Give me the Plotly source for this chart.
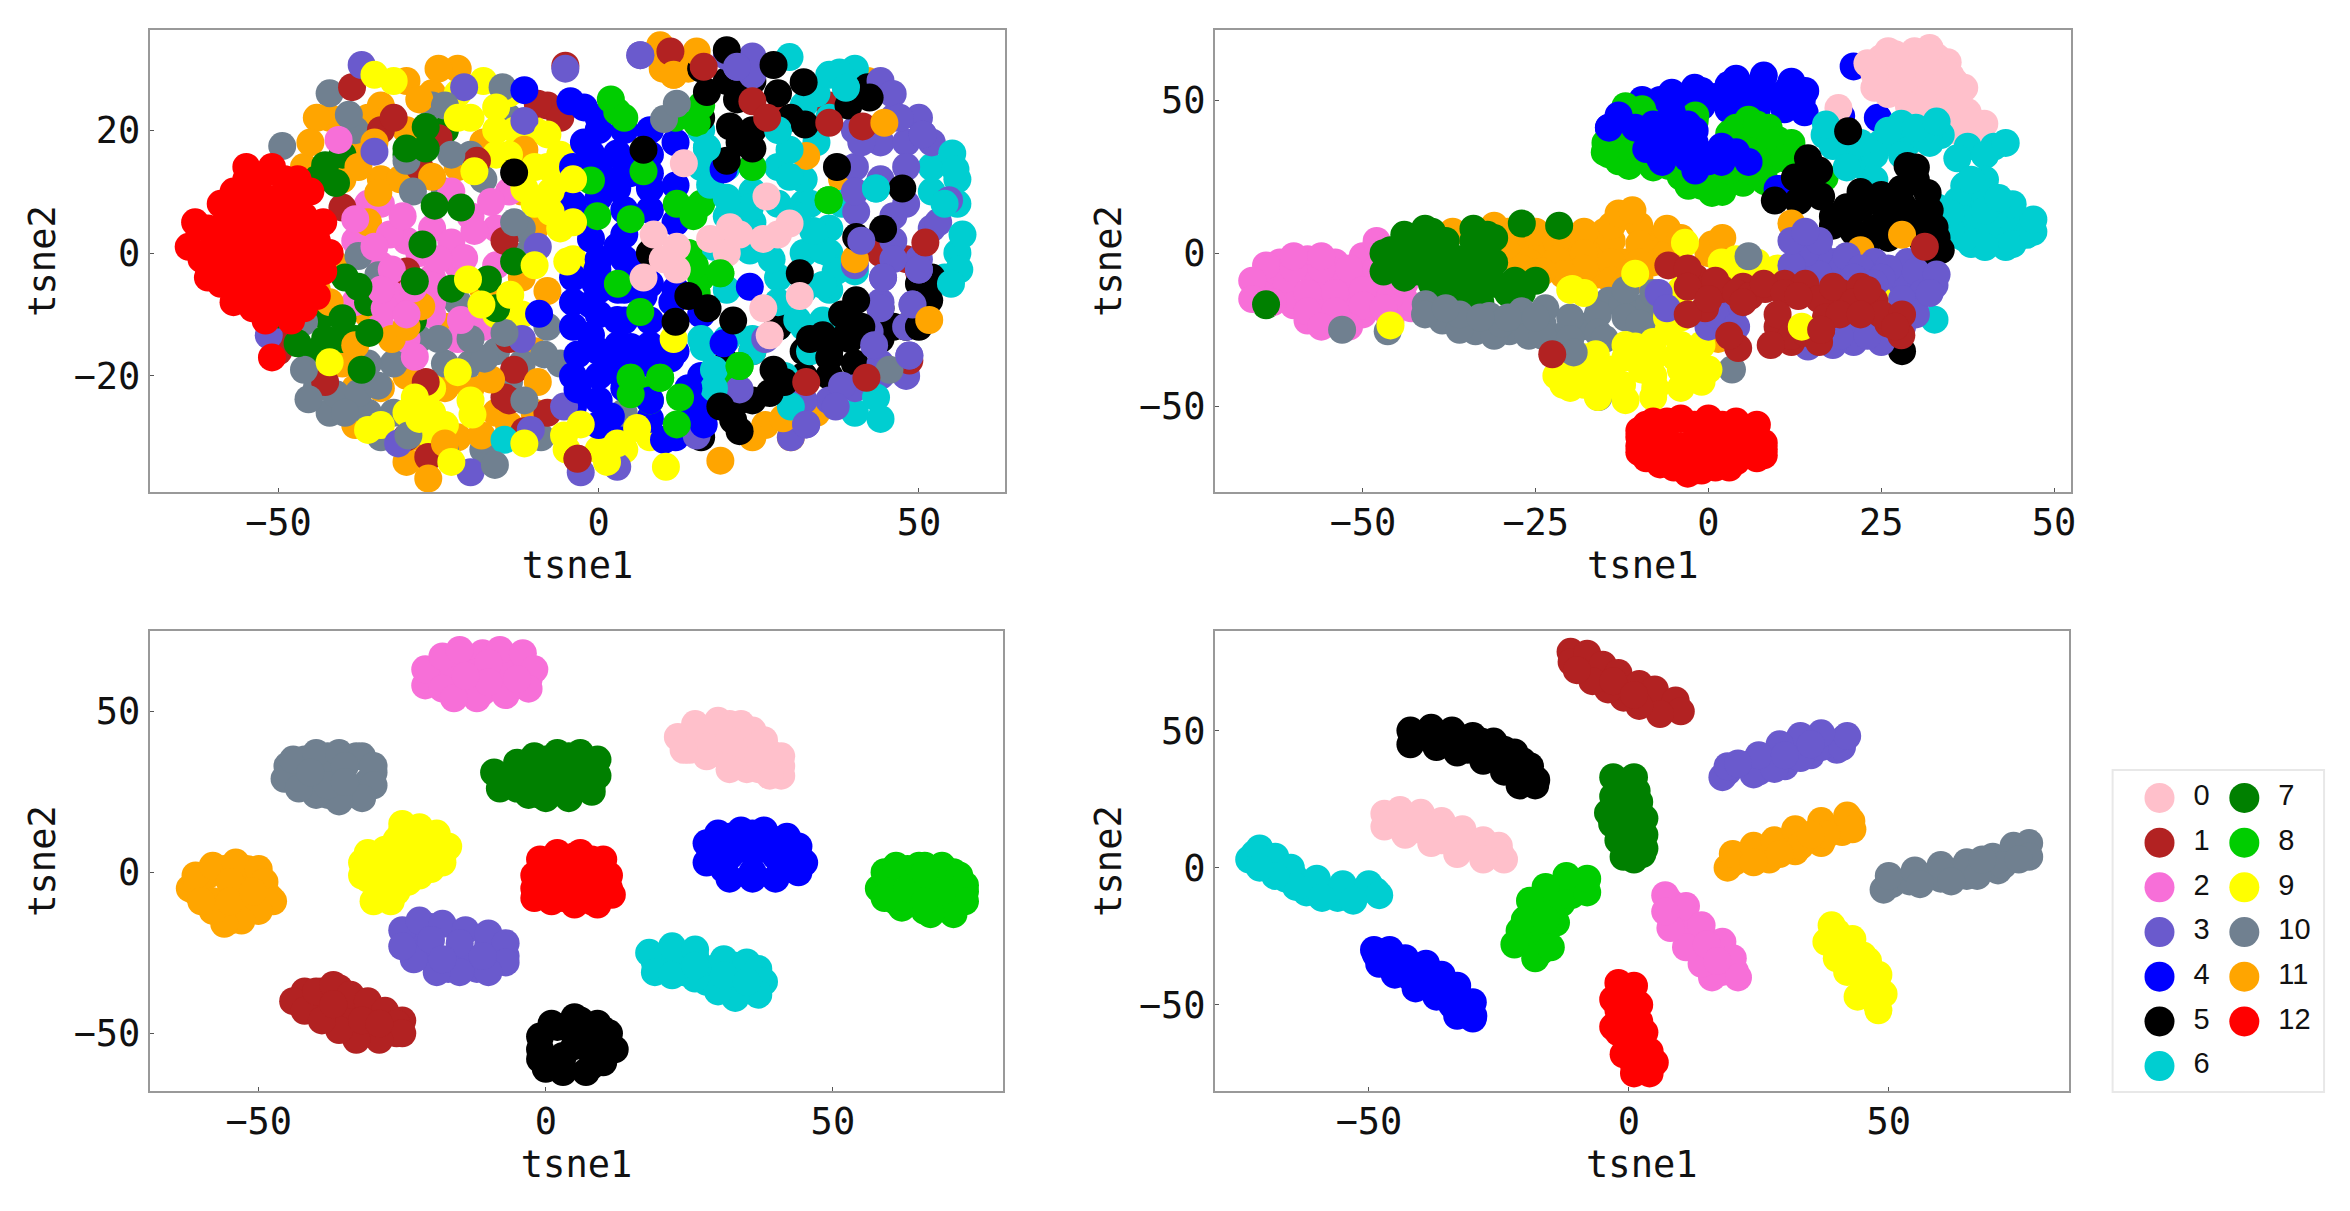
import plotly.graph_objects as go

class_names = ["0","1","2","3","4","5","6","7","8","9","10","11","12"]
class_colors = ["#ffc0cb","#b22222","#f76fd8","#6a5acd","#0000ff","#000000","#00ced1",
                "#008000","#00cd00","#ffff00","#708090","#ffa500","#ff0000"]
legend_col = [0,0,0,0,0,0,0,1,1,1,1,1,1]
legend_row = [0,1,2,3,4,5,6,0,1,2,3,4,5]
x_label = "tsne1"
y_label = "tsne2"

# ---------- panel 1 (top left): background points first ----------
p1_f11 = [(-46,14),(-42,22),(-38,18),(-34,12),(-40,-18),(-36,-10),(-30,20),(-34,24),(-30,28),(-26,26),(-22,14),(-18,18),(-22,30),
          (-38,-28),(-30,-20),(-22,-30),(-30,-34),(-14,-28),(-10,-16),(-10,-26),(-12,10),(-34,-22),(-10,4),(-24,-22),(-20,-22),
          (-16,-26),(26,-28),(30,-30),(34,-26),(38,12),(42,28),(14,30),(10,30),(-40,12),(-36,22),(-31,12),(-24,-12),(-38,-22),
          (-33,-8),(-28,-30),(-18,-6),(-12,-4),(-9,8),(-44,-6),(-41,-2)]
p1_f10 = [(-42,26),(-38,20),(-44,-22),(-42,-26),(-36,-26),(-32,-26),(-34,-30),(-28,-14),(-24,-18),(-20,-18),(-16,-16),(-12,-18),
          (-6,-18),(-24,10),(-26,24),(-18,12),(-14,22),(-12,4),(-8,-12),(-32,-18),(-14,-21),(-18,-32),(-9,-30),(-20,16),(-11,0),
          (-36,-18),(-22,-8),(-24,-32),(-41,-23)]
p1_f2 = [(-34,-12),(-30,-14),(-26,-10),(-22,-14),(-18,-12),(-34,8),(-30,2),(-34,-2),(-26,4),(-20,6),(-16,4),(-14,10),(-22,-2),
         (-26,-4),(-26,-8),(-38,2),(-36,8),(-16,-2),(-30,-8),(-38,-8),(-23,10),(-28,0),(-32,-6)]
p1_f9 = [(-14,26),(-18,28),(-10,20),(-8,14),(-6,16),(-12,18),(-6,4),(-16,16),(-4,-1),(-20,22),(-22,26),(-30,-26),(-26,-30),(-16,-10),
         (-12,-10),(-20,-24),(-24,-28),(-34,-28),(-26,-22),(-5,-32),(0,-32),(4,-32),(8,-30),(-10,8),(-13,20),(-5,11)]
p1_f7 = [(-44,12),(-40,16),(-36,-8),(-38,-14),(-30,16),(-24,20),(-44,-16),(-40,-14),(-43,-10),(-29,-11)]
p1_f1 = [(-34,20),(-28,14),(-14,-24),(-14,-14),(-8,-26),(-30,-30),(-8,24),(-6,22),(28,22),(44,0),(48,-1),(36,24),(50,-3),(24,-16)]
p1_f4 = [(-4,14),(-4,8),(-4,-4),(-4,-8),(-4,-12),(-4,-20),(-4,-25),(0,22),(0,14),(0,9),(0,-1),(0,-6),(0,-10),(0,-16),(0,-20),(0,-24),
         (0,-28),(4,20),(4,15),(4,7),(4,3),(4,-1),(4,-6),(4,-11),(4,-18),(4,-28),(8,20),(8,13),(8,7),(8,-5),(8,-11),(8,-15),(8,-27),
         (12,18),(12,11),(12,5),(12,-6),(12,-16),(12,-30),(16,-10),(16,-20),(16,-24)]
p1_f6 = [(16,20),(16,14),(20,14),(20,6),(24,10),(16,-14),(20,-6),(28,14),(28,8),(32,8),(32,12),(32,0),(28,-4),(32,-6),(36,4),(36,0),
         (36,-6),(28,-12),(24,-14),(32,-12),(20,-14),(34,18),(36,22),(34,26),(36,29),(40,30),(52,14),(52,10),(56,8),(56,0),(54,-4),
         (56,12),(24,14),(32,24),(40,-3),(44,-27),(24,-16),(40,-26),(18,1),(24,5),(38,8),(37,-3)]
p1_f5 = [(20,28),(24,28),(16,22),(22,18),(28,26),(24,20),(30,22),(16,30),(28,-12),(24,-24),(32,-16),(36,-16),(36,-20),(32,-20),
         (40,-18),(44,-9),(44,-14),(50,-5),(52,-4),(16,-30),(20,-24),(42,27),(40,26),(38,-12),(46,-12),(48,-12),(20,-18),(22,-24)]
p1_f3 = [(20,32),(24,32),(26,-14),(40,-22),(36,-24),(32,-24),(30,-30),(44,-20),(48,-20),(40,14),(44,18),(48,18),(44,12),(48,8),(52,4),
         (50,-1),(46,2),(40,-2),(44,-8),(48,-12),(44,28),(46,22),(50,22),(52,18),(40,20)]
p1_f8 = [(12,22),(16,24),(16,8),(8,-24),(14,0),(16,-4),(20,-20),(6,-22)]

p1_c1 = [(-38.5,27),(-32,22),(-25,18.7),(-9.5,24.3),(-40,7.4),(-14.7,2),(-49,-12),(-42.7,-21),(-27,-21),
         (-14.7,-23.5),(-13.2,-19),(-26.6,-33.2),(-11.6,-29),(-5.2,30.5),(-3.3,-33.5),(48.5,-17.5),(-50,-16),
         (-30,-3),(-19,15)]
p1_c11 = [(-25,30),(-28,25),(-44,22),(-45,18),(-11.6,16.8),(-26,12.4),(-34.4,9.8),(-37.5,14),(-27.7,-8.7),
          (-8,-6.2),(-32.3,-14),(-38,-15),(-16.8,-20.6),(-26.6,-36.7),(-24,-31),(-18.3,-29.7),(-9.5,-21),
          (19,-33.8),(28.8,-26.9),(15.3,32.8),(9.6,33.8),(11.7,29),(32.4,15.8),(-35,18),(-36,5),(-30,-12),(-42,-8),(24,-30),(40,-1)]
p1_c3 = [(-37,30.6),(-21,27),(-11.6,21.5),(-35,16.5),(-9.5,1),(-51.5,-13.4),(-31.3,-31),(-20,-35.7),
         (-10.6,-28.8),(2.9,-34.8),(-2.8,-35.7),(-5.4,-25),(15.3,-29.7),(-5.2,30),(6.5,32.2),(21.6,30.3),(-12,-14),
         (22,-22.2),(32.4,-27.9),(38,-21.6),(42.3,-12.8),(44,-18),(48.5,-16.7),(45.9,25.9),(47,22),(50.6,19.3),(48,14),
         (54.7,8.6),(53,5),(40.2,6.7),(46,-1),(44.4,-4),(50,-2.7),(49,-8.4),(44,-9),(41,18),(37,-25),(40,10),(46,6),(24,29)]
p1_c6 = [(-14.7,-30.4),(29.8,31.9),(37.6,29.4),(38.6,26.9),(29.8,16.8),(16.9,17.1),(29.8,12.4),(17.4,11.1),(23.6,7.4),
         (20,9),(43.3,10.5),(55.2,16.2),(55.7,13.6),(56.8,3),(56.3,-2.7),(55,-5),(31,-10.9),(28,-8),(16.4,-15.3),(18,-19),
         (35,0.4),(35,-5.2),(33.5,3.6),(23.6,0.4),(35,-11),(43.3,-23.5),(29,-20),(33,-16),(33,8),(28,20),(18,-22),(31,6),(54,8),(27,-1),(30,-25)]
p1_c10 = [(-39,22.5),(-49.4,17.4),(-24,24),(-15,27),(-23,16),(-29,10),(-13.2,5),(-37.5,-0.5),(-34.4,-3.6),
          (-25,-14),(-14.7,-13),(-17.8,-17.2),(-8.5,-16.5),(-46,-11.2),(-46,-19),(-45.3,-23.8),(-37.5,-22.8),
          (-34.4,-21.6),(-39.6,-26),(-29.7,-29.7),(-16.2,-34.5),(-11.6,-24),(3.9,-26),(10.2,21.8),(12.2,24.3),(45.4,-19),(-20,-14),(-30,15)]
p1_c2 = [(-40.6,18.4),(-38,5.5),(-32.6,3),(-30.6,6),(-16.8,8.3),(-23,1.7),(-19.4,3.6),(-21,-0.8),(-32.3,-2.7),
         (-33.4,-9),(-29,-5.8),(-21.5,-10.9),(-28.7,-16.9),(-25,-1),(-34,-6),(-30,-10),(-35,1)]
p1_c4 = [(-11.6,26.5),(-4.4,24.7),(-2.3,23.7),(-1.2,16.2),(2.9,16.2),(-2.3,18),(2.9,10.5),(8,10.5),(-1.2,2.3),(2.9,1),
         (-0.2,-2.7),(5,-3),(-1.2,-8.4),(-1.2,-13.4),(2.9,-10.9),(-3.3,-16.5),(5,-15.3),(11.2,-17.2),(1.9,-19),(-3.3,-22.2),
         (8,-24),(16.4,-27.9),(10.2,-30.4),(1.9,-26.6),(11.5,-8),(19.5,-14.7),(23.6,-5.5),(19.5,13.6),(-9.3,-9.9),(-0.5,6),
         (3,-6),(7,-7),(3,-15),(8,-18),(-0.5,-5),(5,13),(0,20),(14,-22),(15,-26),(8,16),(4,-22),(1,12)]
p1_c8 = [(2.9,23),(1.9,25),(4,22),(7,13.3),(-1.2,11.8),(-0.2,6),(5,5.5),(5,-20.3),(9.6,-20.3),(12.7,-23.5),(12.2,-27.9),
         (6.5,-9.6),(15.3,-6.5),(19,-3.3),(22,-18.4),(12.2,8),(14.8,6),(15.3,21.2),(24,14),(35.9,8.6),(3,-5),(5,-23),(15,-2)]
p1_c7 = [(-27,20.5),(-30,17),(-27,17),(-42.7,14.3),(-41,11.4),(-25.6,7.7),(-21.5,7.4),(-27.5,1.4),(-13.2,-1.4),
         (-39.6,-4),(-37.5,-5.5),(-28.7,-4.6),(-23,-5.8),(-17.3,-4.3),(-40,-10.6),(-35.8,-13),(-47,-14.7),(-42.7,-14),
         (-37,-19),(-16,-9),(-50,-10)]
p1_c9 = [(-35,29),(-32,28),(-22,22),(-16,23.7),(-16,20),(-8,19.3),(-19.4,13.3),(-7.5,10),(-7.5,6.7),(-11.6,10.5),(-10,14),
         (-4.9,-1.4),(-20.4,-4.3),(-13.8,-6.8),(-18.3,-8.4),(-42,-17.8),(-36,-28.8),(-28.7,-23.5),(-26,-26),(-22,-19.4),
         (-19.7,-26.3),(-23,-34),(-11.6,-31),(-5.4,-29.7),(-2.8,-27.9),(1.3,-34),(6,-28.5),(10.5,-34.8),(2.9,-31),
         (-28,-27),(-4,5),(-4,12),(11.7,-14),(-10,-2),(-14,16)]
p1_top_c5 = [(-13.2,13.1),(7,16.8),(16.9,26.2),(20.5,20.6),(21.6,25),(20,15),(27.3,30.6),(32,27.8),(32.2,20.9),(42.3,25.3),
             (37.2,14),(47.4,10.5),(40.2,2.6),(44.4,3.9),(51.6,-7.7),(35,-13.4),(39.2,-14),(40.2,-7.7),(27.3,-19),(21,-27.2),
             (26.7,-22.8),(31.4,-3.3),(12,-11.2),(50,-12),(21,-11),(19,-25),(8,0),(38,-10),(24,17),(20,33),(39,24),
             (36,-17),(33,-14),(41,-12),(22,-29),(29,-21),(17,-9),(14,-7)]
p1_top_c3 = [(44.4,-4),(50,-2.7),(49,-8.4),(43,-15),(48.5,-16.7),(32.4,-27.9),(41,2),(6.5,32.2),(21.6,30.3),(50.6,19.3)]
p1_top_c1 = [(51,1.7),(41.8,-20.3),(32.4,-21),(24,24.7),(26.3,22),(36,21.2),(41.2,20.6),(11.2,32.8),(16.4,30.3),(-3.3,-33.5)]
p1_top_c11 = [(51.6,-10.9),(44.6,21.2),(11.7,29)]
p1_top_c6 = [(43.3,10.5),(16.9,17.1),(38.6,26.9)]
p1_top_c0 = [(13.3,14.6),(8.6,3),(7,-4),(12.2,-2.7),(12.2,1),(17.4,2.3),(20.5,4.2),(25.7,2.3),(29.8,4.8),(26.2,9.2),(20,0),
             (31.4,-7),(25.7,-9),(26.7,-13.4),(10,-1),(22,3),(28,3)]
p1_top_c8 = [(19,-3.3),(35.9,8.6),(22,-18.4),(5,-20.3),(9.6,-20.3)]
p1_top_c12 = [(-55,14),(-51,14),(-57,10),(-53,10),(-49,10),(-45,10),(-58,6),(-54,6),(-50,6),(-46,6),(-43,5),(-63,5),(-60,2),
              (-56,2),(-52,2),(-48,2),(-44,2),(-42,0),(-64,1),(-61,-2),(-57,-2),(-53,-2),(-49,-2),(-45,-2),(-43,-3),(-59,-5),
              (-55,-5),(-51,-5),(-47,-6),(-61,-4),(-54,-9),(-50,-9),(-46,-9),(-57,-8),(-44,-7),(-51,-17),
              (-59,8),(-55,12),(-47,12),(-61,4),(-62,-1),(-56,-7),(-52,-11),(-48,-11),(-45,-5),(-51,8),(-47,4),(-53,0),(-49,-7),
              (-53,12),(-49,12),(-55,8),(-47,8),(-57,4),(-53,4),(-49,4),(-45,4),(-59,0),(-55,0),(-51,0),(-47,0),(-43,0),
              (-57,-4),(-53,-4),(-49,-4),(-45,-4),(-53,-7),(-51,-7),(-47,-8),(-59,-2),(-55,-2),(-51,-2),(-47,-2)]
p1_layers = [(11,p1_f11),(10,p1_f10),(2,p1_f2),(9,p1_f9),(7,p1_f7),(1,p1_f1),(4,p1_f4),(6,p1_f6),(5,p1_f5),(3,p1_f3),(8,p1_f8),
             (1,p1_c1),(11,p1_c11),(3,p1_c3),(6,p1_c6),(10,p1_c10),(2,p1_c2),(4,p1_c4),(8,p1_c8),(7,p1_c7),(9,p1_c9),
             (5,p1_top_c5),(3,p1_top_c3),(1,p1_top_c1),(11,p1_top_c11),(6,p1_top_c6),(0,p1_top_c0),(8,p1_top_c8),(12,p1_top_c12)]

# ---------- panel 2 (top right) ----------
p2_c7a = [(-64,-17),(-65,-13)]
p2_c2 = [(-64,-8),(-62,-3),(-58,-2),(-54,-3),(-50,-1),(-48,3),(-65,-13),(-61,-10),(-57,-9),(-53,-9),(-49,-8),(-46,-10),
         (-60,-17),(-56,-16),(-52,-16),(-48,-15),(-44,-15),(-58,-22),(-54,-23),(-50,-20),(-46,-22),(-43,-18),
         (-64,-4),(-60,-5),(-56,-5),(-52,-5),(-48,-5),(-63,-16),(-58,-13),(-54,-13),(-50,-12),(-46,-14),(-44,-10),(-58,-19),
         (-54,-19),(-50,-17),(-47,-18),(-56,-24),(-52,-24),(-66,-9),(-66,-15),(-47,-2),(-46,-5),(-48,4),(-60,-1),(-56,-1)]
p2_c7b = [(-64,-16.7)]
p2_c10a = [(-53,-25),(-46.4,-25.5),(-15.9,-47)]
p2_c4a = [(7.7,56),(2.9,54.9),(11.5,53.6),(13.5,50),(1,51),(5.8,51),(9.6,51),(2.9,47),(13.9,46),(-5.3,52.4),(-9.6,50),
          (-5.3,46),(-14.4,41),(-10.6,41),(-5.3,39),(21,61),(19.2,44.8),(24.5,44.2),(10,21),
          (4,57),(8,58),(12,56),(14,53),(-2,54),(3,51),(7,47),(11,47),(11,50),(-1,48),(-1,53),(-3,50),(-7,50),(-9,46),(-12,44),(-12,38)]
p2_c8 = [(-14.4,32.3),(-11.5,28.5),(-9.6,47),(-1.9,45),(5.8,43.6),(8.7,41),(10.6,34.8),(6.7,34.8),(-5.8,28.5),(0.5,19.7),
         (2.9,23.5),(-2.9,22),(8.2,23.5),(16.8,24.7),(-14.9,36),(-10,36),(5,38),(9,30),(-8,33),
         (-13,30),(-10,33),(-8,28),(-12,35),(-15,33),(-4,25),(-1,22),(2,20),(5,23),(3,27),(0,25),(7,38),(8,36),(3,39),(4,41),
         (10,37),(12,36),(11,31),(7,42),(-2,43),(-9,44),(-12,48),(7,28),(6,27)]
p2_c4b = [(-14.4,41),(-10.6,41),(-5.3,39),(-6.7,29.8),(-1.9,27),(1.9,34.8),(1.9,29.8),(5.8,29.8),(-7,36),(-9,34),(0,32),
          (-5.3,46),(10,21),(-8,42),(-3,42),(-7,31),(-3,31),(0,30),(4,33),(-2,36),(-4,34),(-2,40),(-13,45)]
p2_c0 = [(25,63.7),(29.8,66),(34.6,62.4),(26,57.4),(30.8,58.7),(35.6,56),(29.8,52.4),(34.6,50),(31.7,46),(37.5,46),
         (39.9,42.3),(37.5,39.8),(18.8,47.4),(24,58.7),(33,64),(23,62),(26,66),(30,62),(33,60),(28,56),(33,54),(37,54),(31,50),
         (36,48),(28,60),(24,54),(26,52),(29,48),(34,44),(38,43),(36,40),(39,37),(27,65),(32,67),(35,58)]
p2_c6 = [(16.8,38.6),(21,32.3),(25,36),(28.8,36),(33.6,38.6),(37.5,34.8),(41.3,34.8),(27.9,42.3),(23,27.3),(38.5,21),
         (34.6,11),(40.4,11),(44.2,7.2),(46,9.7),(42.3,4.6),(38,16),(32.7,-21.7),(19,36),(39,6),(36,6),
         (18,35),(20,28),(24,32),(28,32),(32,36),(36,31),(40,32),(43,36),(30,41),(26,40),(33,43),(37,22),(40,24),(36,17),(40,17),
         (42,12),(36,8),(38,3),(41,7),(44,11),(46,6),(37,11),(33,15),(40,20),(43,2),(24,24),(22,36),(17,42),
         (40,2),(44,3),(37,5),(35,8),(47,7),(47,11),(44,16),(40,14),(38,24),(42,18),(35,13)]
p2_c5 = [(20.2,39.8),(14.4,31),(12.5,24.7),(9.6,17.2),(16.3,18.5),(20.2,12),(21,7),(25,16),(29.8,8.4),(26,11),(28.8,28.5),
         (31.7,19.7),(32.7,8.4),(33.6,1),(18,12),(27.9,21),(22,20),(30,13),(28,-32),(24,8),(20,15),(18,9),(22,15),(14,22),(16,27),
         (13,17),(23,4),(26,5),(28,12),(25,19),(28,16),(30,24),(30,28),(31,4),(33,5),(32,14),(31,-1)]
p2_c11 = [(-31,9),(-27,4),(-28,-2),(-24,2),(-20,5),(-20,-3),(-16,0),(-16,-7),(-12,-3),(-12.5,12),(-8,4),(-7,5),(-11,-9),
          (-8,-3),(0.5,2.8),(12,9.7),(-37,7),(22,1),(28,6),(1.4,-28),(-15,7),(-24,-5),(-29,7),(-29,0),(-25,7),(-26,-3),(-22,4),
          (-22,-2),(-18,7),(-18,0),(-18,-5),(-14,4),(-14,-3),(-14,-9),(-14,9),(-10,9),(-10,3),(-10,-3),(-10,-8),(-6,0),(-6,8),
          (-13,13),(-11,14),(-21,-7),(-24,-6),(-27,-5),(-12,-10),(0,0),(-4,5),(2,5)]
p2_c7 = [(-46,1),(-46,-4),(-44,-8),(-44,6),(-40,7),(-40,1),(-40,-5),(-40,-10),(-36,-14),(-36,-8),(-36,-2),(-34,4),(-34,8),
         (-31,-3),(-31,-10),(-35,-16),(-28,-9),(-25,-9),(-27,-13),(-27,9.7),(-21.6,9),(-44,2),(-42,-2),(-42,-6),(-38,4),(-38,-2),
         (-38,-7),(-38,-12),(-34,0),(-34,-4),(-34,-10),(-32,6),(-32,-7),(-29,-13),(-33,-16),(-37,-17),(-42,5),(-41,8),(-33,2),
         (-31,5),(-44,-3),(-47,0),(-47,-6)]
p2_c10 = [(-40.9,-16.7),(-38.5,-22),(-33.7,-25.5),(-28.8,-25.5),(-24,-23),(-23.6,-18),(-18.3,-24),(-14.4,-15.5),(-9.6,-18),
          (-31.7,-20.5),(-27,-19),(-12.5,-16.7),(3.4,-38),(-36,-25),(-31,-27),(-26,-27),(-21,-27),(-20,-21),(-16,-20),(-16,-26),
          (-12,-21),(-12,-12),(-8,-13),(-7,-22),(-24,-27),(-36,-20),(-41,-20),(-38,-18),(-30,-23),(-25,-21),(-20,-28),(-15,-28),
          (-10,-23),(-29,-21),(-33,-21)]
p2_c9 = [(-18,-43),(-12.5,-43),(-7.7,-44),(-2.9,-40.6),(-2,-33),(-5.8,-25.5),(-10.6,-30.5),(-16.3,-33),(-20.2,-38),(-9.6,-38),
         (-14.4,-38),(-4.8,-34),(-3.4,3.4),(-10.6,-6.7),(-19.7,-11.7),(1.9,-3),(5.8,-5.4),(-4.3,-16.7),(27,-13),(-46,-23.6),
         (-22,-40),(-20,-44),(-18,-38),(-16,-47),(-14,-43),(-12,-34),(-12,-48),(-8,-29),(-8,-34),(-8,-40),(-8,-47),(-6,-21),
         (-4,-30),(-4,-38),(-4,-44),(-1,-37),(-1,-30),(0,-38),(-16,-40),(-12,-30),(-18,-34),(-20,-12),(-18,-13),(-21,-43),(-1,-42),
         (4,-2),(7,-3),(9,-6),(3,-7),(-4,-12),(-4,-21),(10,-5)]
p2_c10b = [(-19.5,-32.4),(5.8,-1)]
p2_c3 = [(14.4,3.4),(13.5,-2.9),(18.3,-2.9),(24,-2.9),(28.8,-2.9),(32.7,-10.4),(29.8,-18),(30.8,-8),(-7.2,-13),(3.8,-18),(0,-24),
         (14.4,-30.5),(21,-29),(25,-29),(18,-5),(28,-10),(26,-21),(16,0),(20,-1),(22,-5),(26,-5),(30,-6),(31,-13),(33,-7),(28,-15),
         (30,-20),(28,-24),(32,-13),(16,-7),(14,0),(21,-8),(25,-8),(22,-24),(18,-30),(15,-27),(19,-27),(23,-27),(12,-4),(3,-14),
         (1,-20),(4,-24),(-6,-18),(24,-10),(12,4),(16,4),(14,7)]
p2_c1 = [(-5.8,-4),(-1.9,-8),(1.9,-11.7),(-0.5,-18),(8.2,-11.7),(14,-11.7),(19.2,-13),(24,-15.5),(26,-23),(27.9,-26.8),(10,-24),
         (16.3,-25),(4.3,-31),(31.3,2.1),(12,-29),(-22.6,-33),(5,-11),(11,-10),(22,-11),(14,-10),(-3,-5),(-3,-11),(1,-9),(4,-13),
         (-3,-20),(0,-15),(6,-14),(8,-10),(11,-13),(16,-15),(13,-14),(18,-11),(21,-16),(23,-12),(25,-20),(28,-20),(27,-24),(10,-20),
         (12,-27),(17,-21),(19,-20),(22,-20),(5,-16),(9,-30),(14,-26),(16,-29),(3,-27)]
p2_c9b = [(13.5,-24)]
p2_c1b = [(16.3,-25)]
p2_c12 = [(-10,-58),(-10,-63),(-9,-67),(-6,-55),(-6,-61),(-6,-66),(-5,-70),(-2,-56),(-2,-62),(-2,-67),(-2,-71),(2,-56),(2,-61),
          (2,-66),(1,-70),(5,-59),(5,-64),(4,-68),(7,-60),(8,-64),(-8,-55),(-8,-60),(-8,-64),(-4,-54),(-4,-63),(-4,-69),(0,-54),
          (0,-59),(0,-64),(0,-69),(-1,-71),(4,-55),(4,-61),(4,-66),(7,-56),(7,-67),(-7,-69),(-10,-60),(-10,-65),(3,-70),(-9,-56),
          (-3,-72),(8,-62),(8,-66)]
p2_layers = [(7,p2_c7a),(2,p2_c2),(7,p2_c7b),(10,p2_c10a),(4,p2_c4a),(8,p2_c8),(4,p2_c4b),(0,p2_c0),(6,p2_c6),(5,p2_c5),(11,p2_c11),
             (7,p2_c7),(10,p2_c10),(9,p2_c9),(10,p2_c10b),(3,p2_c3),(1,p2_c1),(9,p2_c9b),(1,p2_c1b),(12,p2_c12)]

# ---------- panel 3 (bottom left) ----------
p3_c0 = [(25,41),(25,38),(28,44),(28,36),(32,46),(36,44),(30,39),(35,38),(39,37),(41,33),(37,32),(33,35),
         (23,42),(26,46),(30,47),(34,46),(38,41),(41,36),(41,30),(39,30),(35,32),(32,32),(28,39),(32,41),(37,36),(24,38)]
p3_c1 = [(-42,-37),(-39,-37),(-36,-36),(-33,-41),(-30,-44),(-25,-46),(-26,-50),(-31,-50),(-37,-46),(-40,-42),(-34,-46),
         (-44,-40),(-42,-43),(-40,-37),(-37,-35),(-34,-38),(-31,-40),(-28,-43),(-26,-47),(-25,-50),(-29,-52),(-33,-52),(-36,-49),
         (-39,-46),(-32,-46),(-37,-41),(-29,-47)]
p3_c2 = [(-18,62),(-15,58),(-15,66),(-11,68),(-11,56),(-7,67),(-7,57),(-4,64),(-3,60),(-20,60),(-12,62),(-7,62),(-16,62),
         (-21,58),(-21,63),(-18,57),(-18,67),(-15,69),(-8,69),(-4,68),(-2,63),(-3,57),(-7,55),(-12,54),(-16,54),(-10,65),(-10,59),
         (-14,61),(-5,60)]
p3_c3 = [(-24,-20),(-20,-17),(-15,-19),(-10,-22),(-7,-26),(-12,-30),(-17,-30),(-21,-25),(-15,-25),(-25,-18),(-22,-15),(-18,-16),
         (-14,-18),(-10,-19),(-7,-22),(-7,-28),(-10,-31),(-15,-31),(-19,-31),(-23,-27),(-25,-23),(-20,-21),(-15,-22),(-11,-26),(-18,-27)]
p3_c4 = [(29,6),(31,1),(32,11),(36,12),(36,0),(40,10),(41,1),(44,5),(36,6),(28,3),(28,9),(30,12),(34,13),(38,13),(42,11),(44,8),
         (45,3),(44,0),(40,-2),(36,-2),(32,-2),(32,5),(40,5),(36,9)]
p3_c5 = [(-1,-55),(2,-48),(6,-46),(10,-49),(11,-53),(8,-60),(3,-61),(0,-59),(5,-54),(-1,-51),(-1,-58),(1,-47),(5,-45),(9,-47),(11,-50),
         (12,-55),(10,-59),(7,-62),(3,-62),(0,-61),(5,-50),(8,-54),(3,-57)]
p3_c6 = [(19,-28),(22,-25),(26,-26),(24,-31),(29,-30),(33,-29),(36,-31),(37,-36),(33,-37),(28,-34),(18,-25),(19,-31),(22,-23),(26,-24),
         (31,-27),(35,-28),(37,-30),(38,-34),(37,-38),(33,-39),(30,-37),(26,-33),(22,-32),(26,-29),(31,-32),(35,-34)]
p3_c7 = [(-8,29),(-5,26),(-4,32),(-1,24),(0,35),(4,24),(4,36),(8,27),(8,34),(2,30),(-3,29),(-9,31),(-8,26),(-5,34),(-2,36),(2,37),
         (6,37),(9,35),(9,30),(8,25),(4,23),(0,23),(-3,24),(-1,31),(5,30),(-5,30)]
p3_c8 = [(59,-4),(61,-9),(63,1),(66,2),(66,-12),(71,0),(71,-12),(73,-6),(66,-5),(58,-5),(59,0),(61,2),(65,2),(69,2),(72,-1),(73,-4),
         (73,-9),(71,-13),(67,-13),(62,-11),(59,-8),(63,-5),(69,-6),(66,-9),(66,0)]
p3_c9 = [(-31,3),(-31,-2),(-29,-7),(-28,7),(-27,0),(-25,12),(-23,5),(-20,10),(-18,5),(-22,-1),(-25,13),(-32,-1),(-32,3),(-31,6),(-30,-9),
         (-27,-9),(-26,10),(-25,15),(-22,14),(-19,12),(-17,8),(-18,3),(-20,1),(-24,-3),(-26,-6),(-28,-3),(-25,4),(-22,8)]
p3_c10 = [(-45,33),(-43,28),(-42,35),(-38,24),(-38,36),(-33,24),(-33,36),(-30,31),(-31,28),(-38,30),(-43,32),(-45.5,29),(-44,35),
          (-40,37),(-36,37),(-32,36),(-30,33),(-30,27),(-32,23),(-36,22),(-40,24),(-43,26),(-38,27),(-35,33),(-35,28),(-41,31)]
p3_c11 = [(-61,-6),(-59,-1),(-56,1),(-52,1),(-50,-3),(-48,-8),(-52,-10),(-55,-15),(-58,-9),(-54,-5),(-62,-5),(-61,-1),(-58,2),(-54,3),
          (-50,1),(-49,-3),(-47.5,-9),(-50,-12),(-53,-15),(-56,-16),(-58,-12),(-60,-9),(-55,-3),(-55,-9),(-51,-6)]
p3_c12 = [(0,-3),(-2,-5),(2,3),(5,5),(8,4),(10,0),(11,-5),(8,-9),(3,-8),(5,-2),(-2,-1),(-1,4),(2,6),(6,6),(10,4),(11,-1),(11.5,-7),
          (9,-10),(5,-10),(1,-9),(-2,-8),(1,-2),(6,1),(7,-5),(3,-5)]
p3_layers = list(enumerate([p3_c0,p3_c1,p3_c2,p3_c3,p3_c4,p3_c5,p3_c6,p3_c7,p3_c8,p3_c9,p3_c10,p3_c11,p3_c12]))

# ---------- panel 4 (bottom right) ----------
p4_c0 = [(-47,19.7),(-45,16),(-42.8,18.6),(-41,14),(-38.5,14.8),(-36,10),(-34.2,13),(-32,9),(-30,9.3),(-27,6),(-24.7,5),
         (-47,15),(-44,21),(-40,20),(-36,17),(-32,14),(-28,10),(-25,8),(-24,3),(-28,3),(-33,5),(-38,9),(-43,12),(-35,11)]
p4_c1 = [(-11.2,78.7),(-9,74),(-8.3,73),(-6,72),(-4,69),(-2,65),(0.3,66),(2,61),(4.6,62),(7,58),(8.9,58.5),
         (-11,75),(-8,78),(-5,74),(-2,71),(2,67),(5,65),(9,61),(10,57),(6,56),(2,59),(-1,62),(-4,65),(-7,68),(-10,72),(-3,68),(1,63)]
p4_c2 = [(8,-12.6),(10,-18),(11.2,-19.7),(12,-24),(14.7,-26),(15,-32),(17.5,-30.6),(18,-38),(20.4,-37.7),
         (7,-10),(11,-14),(14,-21),(18,-27),(20,-33),(21,-40),(16,-40),(14,-35),(11,-29),(8,-22),(7,-16),(15,-28),(17,-34)]
p4_c3 = [(19,35),(23.3,37.7),(27.6,40.4),(25,35),(30,37),(32,44.8),(35,41),(36.2,47.5),(41.4,47),(40,43),
         (18,33),(19,37),(24,34),(28,36),(33,40),(37,44),(41,44),(42,48),(37,49),(33,48),(29,45),(25,41),(21,38),(35,45),(30,41)]
p4_c4 = [(-48.6,-31.7),(-46,-36),(-44.3,-36),(-42,-40),(-40,-38.8),(-38,-44),(-35.6,-43),(-34,-50),(-32,-48.6),(-29.9,-54),
         (-49,-30),(-46,-30),(-43,-33),(-39,-35),(-36,-39),(-33,-43),(-30,-49),(-30,-55),(-33,-54),(-37,-47),(-41,-44),(-45,-39),(-48,-35)]
p4_c5 = [(-41.7,48),(-37,48.6),(-32.8,47.5),(-31,43),(-28.4,46),(-26,40),(-24,43),(-22,35),(-20.4,38.8),(-17.8,32),
         (-42,50),(-38,51),(-34,50),(-30,48),(-26,46),(-22,42),(-19,37),(-18,30),(-21,30),(-24,35),(-28,39),(-33,42),(-37,44),(-42,45),(-28,43)]
p4_c6 = [(-72,5),(-70,1),(-68.7,0.5),(-66,-4),(-64.4,-3.3),(-62,-9),(-60,-7),(-56,-11),(-54.3,-9.3),(-48.6,-8.7),
         (-73,3),(-71,7),(-68,4),(-65,0),(-60,-4),(-55,-6),(-50,-6),(-48,-10),(-53,-12),(-59,-11),(-64,-7),(-68,-3),(-71,0)]
p4_c7 = [(-2,29.5),(-1.1,21),(-3.2,16),(0.3,7.6),(2.6,5),(1.7,18.6),(1.5,28),(3,12),(-1,12),(-2,24),
         (-3,33),(1,33),(2,24),(3,18),(3,7),(1,3),(-2,10),(-4,20),(-3,26),(0,14),(-1,4)]
p4_c8 = [(-20.7,-26.8),(-18.4,-17),(-16,-11.5),(-12,-7),(-8.3,-6),(-17,-30.6),(-14,-20),(-13,-13),(-17,-23),
         (-21,-23),(-22,-28),(-18,-33),(-15,-29),(-15,-15),(-11,-10),(-8,-9),(-8,-4),(-12,-3),(-16,-7),(-19,-12),(-20,-19),(-16,-19)]
p4_c9 = [(40,-23.5),(42.8,-30.6),(44.8,-38.8),(47.7,-49.7),(46,-44),(48,-44),(41,-28),(45,-32),
         (39,-21),(43,-26),(46,-34),(48,-39),(49,-46),(48,-52),(44,-47),(42,-38),(40,-33),(38,-27),(47,-46)]
p4_c10 = [(50.6,-6),(56.3,-3.3),(62,-1.6),(67.8,0.5),(73.6,5),(76.4,6.5),(60,-4),(65,-3),(71,-1),(54,-5),
          (49,-8),(50,-3),(55,-1),(60,1),(65,2),(70,4),(74,8),(77,9),(77,4),(72,1),(67,-3),(62,-5),(56,-6),(68,3),(75,3)]
p4_c11 = [(20.4,2.2),(24.7,6),(29,8.7),(27,3),(33.3,11.5),(32,6),(37.6,14.8),(37,9),(42.8,17),(41,13),
          (19,0),(20,5),(24,8),(28,10),(32,14),(37,17),(42,19),(43,14),(38,12),(33,8),(29,5),(24,2),(35,12)]
p4_c12 = [(-1.1,-45),(-1.4,-55),(0.3,-63.4),(3.2,-73),(2,-68),(0,-50),(2,-58),(-2,-60),(1,-72),
          (-2,-42),(1,-43),(2,-50),(3,-60),(4,-67),(5,-71),(4,-75),(1,-75),(-1,-68),(-3,-58),(-3,-48),(-2,-52),(2,-56)]
p4_layers = list(enumerate([p4_c0,p4_c1,p4_c2,p4_c3,p4_c4,p4_c5,p4_c6,p4_c7,p4_c8,p4_c9,p4_c10,p4_c11,p4_c12]))

# ---------- layout ----------
W, H = 2350, 1211
MS = 28
spine = "#999999"
tick_font = dict(family="DejaVu Sans Mono", size=37, color="#111111")
panels = [
    dict(box=(150,1008,30,492),  xr=(-70.1,63.5), yr=(-38.9,36.3), xt=[-50,0,50],         yt=[-20,0,20],  layers=p1_layers),
    dict(box=(1218,2076,30,492), xr=(-71.4,52.4), yr=(-78,72.9),   xt=[-50,-25,0,25,50],  yt=[-50,0,50],  layers=p2_layers),
    dict(box=(150,1006,631,1091),xr=(-69,79.7),   yr=(-67.9,74.9), xt=[-50,0,50],         yt=[-50,0,50],  layers=p3_layers),
    dict(box=(1218,2074,631,1091),xr=(-79.6,84.6),yr=(-81.4,86.3), xt=[-50,0,50],         yt=[-50,0,50],  layers=p4_layers),
]

fig = go.Figure()
layout = dict(width=W, height=H, margin=dict(l=0,r=0,t=0,b=0), paper_bgcolor="white", plot_bgcolor="white",
              showlegend=False, font=dict(family="DejaVu Sans Mono"))
for i, p in enumerate(panels):
    n = i + 1
    s = "" if n == 1 else str(n)
    x0, x1, y0, y1 = p["box"]
    axis_common = dict(showgrid=False, zeroline=False, showline=True, mirror=True, linecolor=spine, linewidth=2,
                       ticks="inside", ticklen=4, tickcolor="#555555", tickwidth=1, tickfont=tick_font)
    layout["xaxis"+s] = dict(axis_common, domain=[x0/W, x1/W], range=list(p["xr"]), tickvals=p["xt"], anchor="y"+s,
                             ticklabelstandoff=-3, title=dict(text=x_label, font=tick_font, standoff=4))
    layout["yaxis"+s] = dict(axis_common, domain=[1-y1/H, 1-y0/H], range=list(p["yr"]), tickvals=p["yt"], anchor="x"+s,
                             title=dict(text=y_label, font=tick_font, standoff=6))
    for cls, pts in p["layers"]:
        fig.add_trace(go.Scatter(x=[a for a,_ in pts], y=[b for _,b in pts], mode="markers", xaxis="x"+s, yaxis="y"+s,
                                 name=class_names[cls], marker=dict(size=MS, color=class_colors[cls], line=dict(width=0))))

# legend drawn as its own small axes, so that the markers can be as large as in the reference
layout["xaxis5"] = dict(domain=[2118/W, 2330/W], range=[-0.553,1.94], visible=False, anchor="y5")
layout["yaxis5"] = dict(domain=[1-1092/H, 1-770/H], range=[6.58,-0.626], visible=False, anchor="x5")
for c in range(13):
    fig.add_trace(go.Scatter(x=[legend_col[c]], y=[legend_row[c]], mode="markers", xaxis="x5", yaxis="y5",
                             name=class_names[c], marker=dict(size=30, color=class_colors[c], line=dict(width=0))))
    fig.add_trace(go.Scatter(x=[legend_col[c]+0.4], y=[legend_row[c]], mode="text", xaxis="x5", yaxis="y5",
                             text=[class_names[c]], textposition="middle right", name=class_names[c],
                             textfont=dict(family="Liberation Sans", size=29, color="#111111")))
layout["shapes"] = [dict(type="rect", xref="x5 domain", yref="y5 domain", x0=0, x1=1, y0=0, y1=1,
                         line=dict(color="#e8e8e8", width=2), fillcolor="rgba(0,0,0,0)", layer="below")]
fig.update_layout(**layout)
fig.write_html("out.html", post_script="document.body.style.margin='0';", config={"displayModeBar": False})
